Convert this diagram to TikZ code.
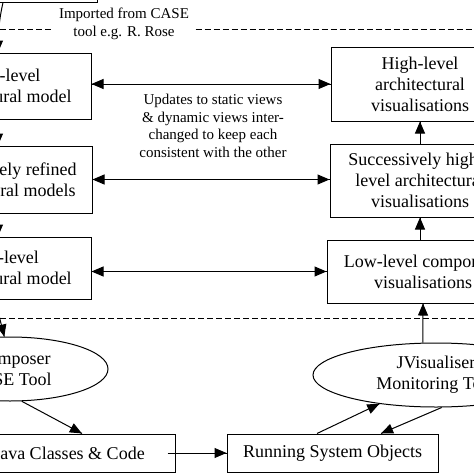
\documentclass[tikz,border=0pt]{standalone}
\usepackage{fontspec}
\setmainfont{Liberation Serif}
\usetikzlibrary{arrows.meta}
\usetikzlibrary{decorations.markings}
\usetikzlibrary{shapes.geometric}
\tikzset{->/.style = {decoration={markings,
                                  mark=at position 1 with {\arrow{Triangle[length=12pt,width=10pt]}}},
                      postaction={decorate}}}
\tikzset{<->/.style = {decoration={markings,
                                   mark=at position 0 with {\arrowreversed{Triangle[length=12pt,width=10pt]}},
                                   mark=at position 1 with {\arrow{Triangle[length=12pt,width=10pt]}}},
                       postaction={decorate}}}
\tikzset{box/.style = {draw, line width=1pt, align=center, inner sep=0pt,
                       font=\fontsize{18}{21}\selectfont},
         oval/.style = {ellipse, draw, line width=1pt, align=center, inner sep=0pt,
                        font=\fontsize{18}{21}\selectfont},
         note/.style = {align=center, font=\fontsize{15}{17.5}\selectfont},
         sep/.style = {line width=0.8pt, dash pattern=on 6pt off 3pt}}

\begin{document}
\begin{tikzpicture}[x=1pt, y=-1pt, line width=1pt]
    \useasboundingbox (0,0) rectangle (474,474);
    \fill [white] (0,0) rectangle (474,474);
    \clip (0,0) rectangle (474,474);
    % static views (left) and dynamic views (right)
    \node [box, minimum width=197pt, minimum height=42pt] (casebox) at (-1.5,-19) {};
    \node [box, minimum width=178pt, minimum height=66pt] (lhigh) at (2,86) {High-level\\architectural model};
    \node [box, minimum width=179pt, minimum height=67pt] (lrefined) at (2.5,179.5) {Successively refined\\architectural models};
    \node [box, minimum width=178pt, minimum height=62pt] (llow) at (2,268) {Low-level\\architectural model};
    \node [box, minimum width=178pt, minimum height=74pt] (rhigh) at (420,84) {High-level\\architectural\\visualisations};
    \node [box, minimum width=180pt, minimum height=73pt] (rmid) at (420,180.5) {Successively higher\\level architectural\\visualisations};
    \node [box, minimum width=192pt, minimum height=63pt] (rlow) at (423,271.5) {Low-level component\\visualisations};
    \node [oval, minimum width=196pt, minimum height=64pt] (lcomposer) at (10,369) {JComposer\\CASE Tool};
    \node [oval, minimum width=246pt, minimum height=64pt] (rvisual) at (436,375) {JVisualiser\\Monitoring Tool};
    \node [box, minimum width=212pt, minimum height=38pt] (java) at (69,453) {Java Classes \& Code};
    \node [box, minimum width=211pt, minimum height=38pt] (running) at (332.5,453) {Running System Objects};
    \node [note, minimum width=142pt] (imported) at (124,24) {Imported from CASE\\tool e.g. R. Rose};
    \node [note] (updates) at (213,126) {Updates to static views\\\& dynamic views inter-\\changed to keep each\\consistent with the other};
    % separators
    \draw [sep] (0,29) -- (imported.west |- 0,29);
    \draw [sep] (imported.east |- 0,29) -- (474,29);
    \draw [sep] (0,318) -- (474,318);
    % left column
    \draw [->] ([xshift=4.5pt]casebox.south) .. controls +(-4,18) and +(0,-20) .. ([xshift=-4pt]lhigh.north);
    \draw [->] ([xshift=-4pt]lhigh.south) -- ([xshift=-4.5pt]lrefined.north);
    \draw [->] ([xshift=-4.5pt]lrefined.south) -- ([xshift=-4pt]llow.north);
    \draw [->] ([xshift=-7pt]llow.south) -- (lcomposer.100);
    \draw [->] (lcomposer.-70) -- ([xshift=13pt]java.north);
    \draw [->] ([xshift=-8pt]java.east) -- (running.west);
    % right column
    \draw [->] ([xshift=-15.5pt]running.north) -- (rvisual.207);
    \draw [->] (rvisual.-80) -- ([xshift=48.5pt]running.north);
    \draw [->] (rvisual.112) -- (rlow.south);
    \draw [->] (rlow.north -| rmid.south) -- (rmid.south);
    \draw [->] (rmid.north) -- (rhigh.south);
    % keeping both views consistent
    \draw [<->] (lhigh.east |- rhigh.west) -- (rhigh.west);
    \draw [<->] (lrefined.east) -- (lrefined.east -| rmid.west);
    \draw [<->] (llow.east |- rlow.west) -- (rlow.west);
\end{tikzpicture}
\end{document}
